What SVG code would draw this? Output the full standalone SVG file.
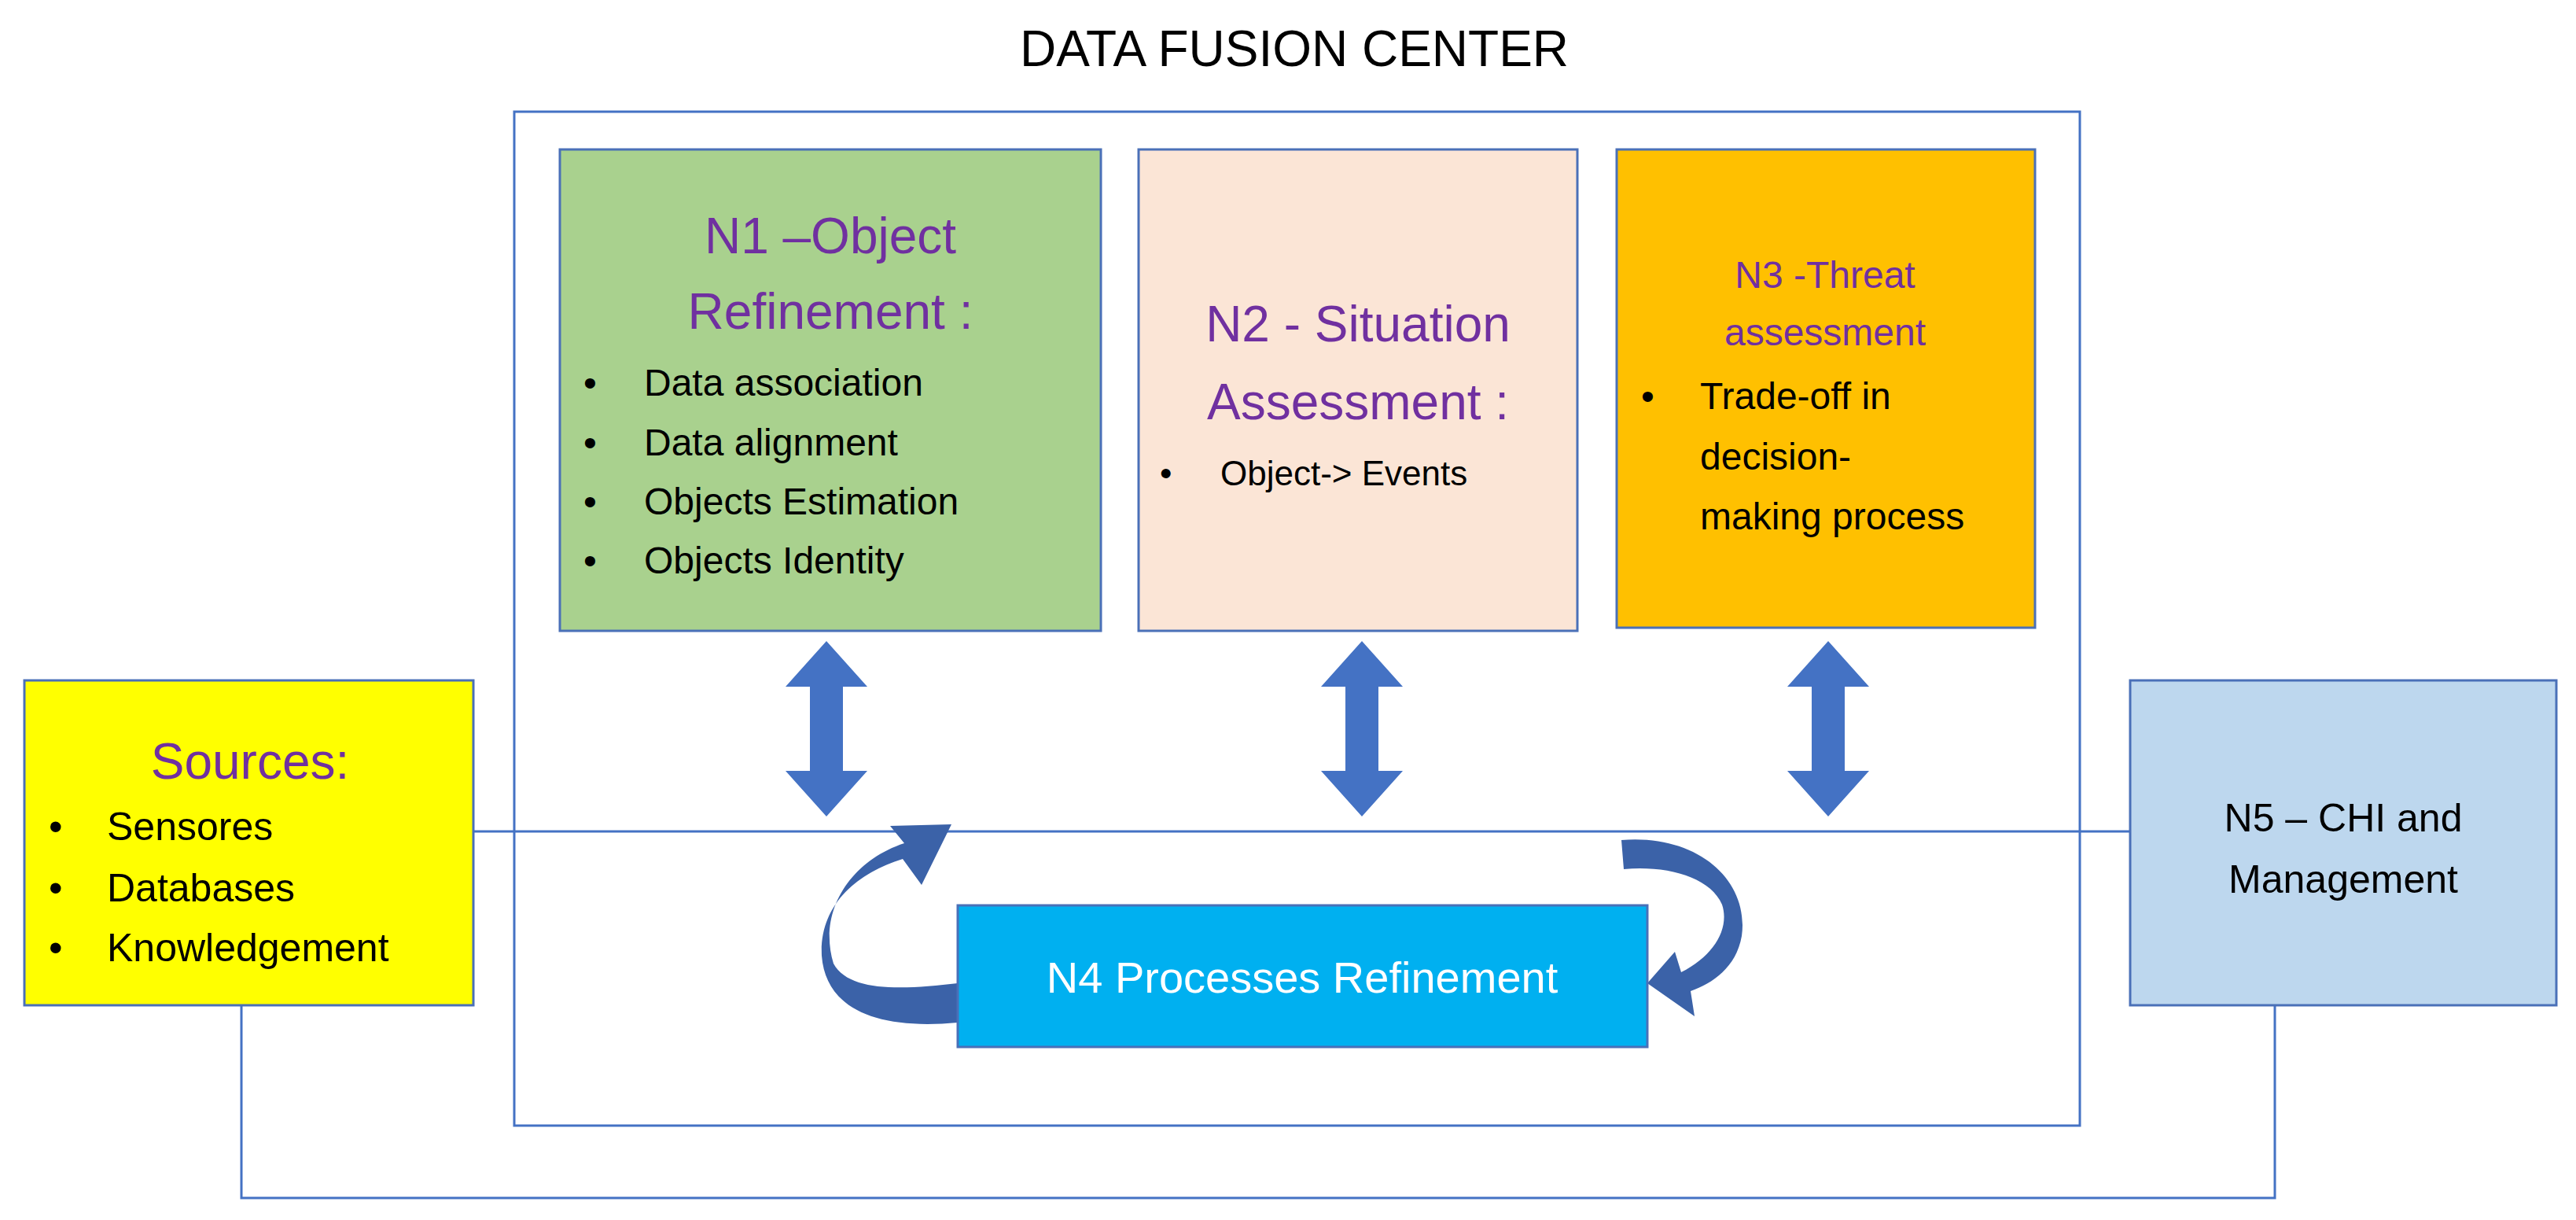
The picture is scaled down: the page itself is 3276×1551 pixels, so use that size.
<svg xmlns="http://www.w3.org/2000/svg" width="3276" height="1551" viewBox="0 0 3276 1551">
<style>
text{font-family:"Liberation Sans",Arial,sans-serif}
.box{stroke:#4a70b8;stroke-width:3}
.ttl{fill:#7030A0;text-anchor:middle}
.blk{fill:#000}
.ln{fill:none;stroke:#4472C4;stroke-width:3}
.arr{fill:#4472C4}
</style>
<rect width="3276" height="1551" fill="#fff"/>
<text x="1646" y="84" font-size="64" text-anchor="middle" fill="#000">DATA FUSION CENTER</text>
<g id="connectors">
<rect class="ln" x="654" y="142" width="1991" height="1289"/>
<line class="ln" x1="602" y1="1057" x2="2709" y2="1057"/>
<polyline class="ln" points="307,1278 307,1523 2893,1523 2893,1278"/>
<path class="arr" d="M1051,815 L1103,873 L1072,873 L1072,980 L1103,980 L1051,1038 L999,980 L1030,980 L1030,873 L999,873 Z"/>
<path class="arr" d="M1732,815 L1784,873 L1753,873 L1753,980 L1784,980 L1732,1038 L1680,980 L1711,980 L1711,873 L1680,873 Z"/>
<path class="arr" d="M2325,815 L2377,873 L2346,873 L2346,980 L2377,980 L2325,1038 L2273,980 L2304,980 L2304,873 L2273,873 Z"/>
<path fill="#3b62a8" d="M1218,1300 C1110,1310 1050,1280 1045,1215 C1042,1150 1090,1110 1148,1092 L1172,1125 L1210,1048 L1132,1050 L1150,1072 C1080,1095 1040,1160 1060,1225 C1080,1262 1150,1258 1218,1250 Z"/>
<path fill="#3b62a8" d="M2062,1068 C2160,1060 2225,1120 2215,1190 C2208,1230 2178,1250 2150,1260 L2155,1292 L2095,1250 L2130,1210 L2138,1236 C2180,1215 2200,1180 2190,1150 C2175,1115 2120,1100 2065,1105 Z"/>
</g>
<g id="n1">
<rect class="box" x="712" y="190" width="688" height="612" fill="#A9D18E"/>
<text class="ttl" x="1056" y="322" font-size="64">N1 –Object</text>
<text class="ttl" x="1056" y="418" font-size="64">Refinement :</text>
<g class="blk" font-size="48">
<text x="742" y="503">•</text><text x="819" y="503">Data association</text>
<text x="742" y="579">•</text><text x="819" y="579">Data alignment</text>
<text x="742" y="654">•</text><text x="819" y="654">Objects Estimation</text>
<text x="742" y="729">•</text><text x="819" y="729">Objects Identity</text>
</g>
</g>
<g id="n2">
<rect class="box" x="1448" y="190" width="558" height="612" fill="#FBE5D6"/>
<text class="ttl" x="1727" y="434" font-size="64">N2 - Situation</text>
<text class="ttl" x="1727" y="533" font-size="64">Assessment :</text>
<text x="1475" y="617" font-size="44">•</text><text x="1552" y="617" font-size="44">Object-&gt; Events</text>
</g>
<g id="n3">
<rect class="box" x="2056" y="190" width="532" height="608" fill="#FFC000"/>
<text class="ttl" x="2321" y="366" font-size="48">N3 -Threat</text>
<text class="ttl" x="2321" y="439" font-size="48">assessment</text>
<g font-size="48">
<text x="2087" y="520">•</text><text x="2162" y="520">Trade-off in</text>
<text x="2162" y="597">decision-</text>
<text x="2162" y="673">making process</text>
</g>
</g>
<g id="sources">
<rect class="box" x="31" y="865" width="571" height="413" fill="#FFFF00"/>
<text class="ttl" x="318" y="990" font-size="64">Sources:</text>
<g font-size="50">
<text x="62" y="1068">•</text><text x="136" y="1068">Sensores</text>
<text x="62" y="1146">•</text><text x="136" y="1146">Databases</text>
<text x="62" y="1222">•</text><text x="136" y="1222">Knowledgement</text>
</g>
</g>
<g id="n5">
<rect class="box" x="2709" y="865" width="542" height="413" fill="#BDD7EE"/>
<text x="2980" y="1057" font-size="50" text-anchor="middle">N5 – CHI and</text>
<text x="2980" y="1135" font-size="50" text-anchor="middle">Management</text>
</g>
<g id="n4">
<rect class="box" x="1218" y="1151" width="877" height="180" fill="#00B0F0" stroke="#2F528F"/>
<text x="1656" y="1262" font-size="56" text-anchor="middle" fill="#fff">N4 Processes Refinement</text>
</g>
</svg>
